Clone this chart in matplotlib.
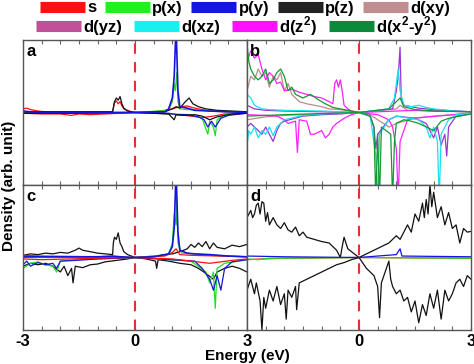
import matplotlib.pyplot as plt
from matplotlib.lines import Line2D
from matplotlib.ticker import MultipleLocator, FixedFormatter, FixedLocator

plt.rcParams.update({
    "font.family": ["Liberation Sans", "DejaVu Sans"],
    "font.weight": "bold",
})

# orbital names and colours (legend)
orbitals = ["s", "p(x)", "p(y)", "p(z)", "d(xy)",
            "d(yz)", "d(xz)", r"d(z$^\mathregular{2}$)", r"d(x$^\mathregular{2}$-y$^\mathregular{2}$)"]
colors = ["#ff1010", "#22ee22", "#1515e0", "#222222", "#c08e8e",
          "#c0509a", "#18f0f0", "#ff10ff", "#0a8a3a"]
line_colors = dict(s="#ff1010", px="#22dd22", py="#1515e0", pz="#111111", xy="#b88c8c",
                   yz="#9a35d2", xz="#18e0f0", z2="#ff20ff", x2y2="#139a30")

# ---- panel a (spin up > 0, spin down < 0) ----
a_s_up_e = [-3, -2.9, -2.8, -2.6, -2.4, -2.0, -1.5, -1.0, -0.6, -0.55, -0.5, -0.45, -0.4, -0.35, -0.3, -0.2, -0.1, 0, 0.5, 0.8, 1.0, 1.2, 1.4, 1.6, 1.8, 2.0, 2.4, 3]
a_s_up = [0.05, 0.06, 0.04, 0.02, 0.01, 0.01, 0.01, 0.01, 0.01, 0.13, 0.16, 0.12, 0.15, 0.09, 0.05, 0.03, 0.01, 0, 0.01, 0.03, 0.05, 0.08, 0.09, 0.06, 0.04, 0.02, 0.01, 0.005]
a_s_dn_e = [-3, -2.5, -2.0, -1.7, -1.5, -1.2, -0.8, -0.4, 0, 1.0, 1.5, 1.8, 2.1, 2.4, 3]
a_s_dn = [-0.01, -0.02, -0.02, -0.04, -0.02, -0.03, -0.02, -0.01, 0, -0.02, -0.05, -0.07, -0.05, -0.02, -0.01]
a_pz_up_e = [-3, -2.0, -1.0, -0.6, -0.55, -0.5, -0.45, -0.4, -0.35, -0.3, -0.2, 0, 0.8, 1.0, 1.1, 1.2, 1.35, 1.45, 1.55, 1.7, 1.9, 2.2, 2.6, 3]
a_pz_up = [0.01, 0.01, 0.01, 0.01, 0.15, 0.2, 0.17, 0.22, 0.12, 0.06, 0.02, 0, 0.01, 0.05, 0.08, 0.06, 0.15, 0.2, 0.12, 0.08, 0.05, 0.03, 0.02, 0.01]
a_pz_dn_e = [-3, -1.5, 0, 0.9, 1.05, 1.1, 1.3, 1.6, 1.8, 2.0, 2.2, 2.6, 3]
a_pz_dn = [-0.01, -0.01, 0, -0.02, -0.1, -0.03, -0.04, -0.03, -0.05, -0.1, -0.06, -0.02, -0.01]
a_py_up_e = [-3, -2.8, -2.5, -1.0, 0, 0.8, 0.9, 1.0, 1.05, 1.1, 1.15, 1.2, 1.4, 1.6, 2.0, 2.5, 3]
a_py_up = [0.02, 0.01, 0.0, 0.0, 0, 0.01, 0.05, 0.2, 0.5, 1.2, 0.3, 0.08, 0.06, 0.03, 0.02, 0.01, 0]
a_py_dn_e = [-3, 0, 0.9, 1.1, 1.4, 1.7, 1.85, 1.95, 2.05, 2.15, 2.3, 2.5, 3]
a_py_dn = [-0.01, 0, -0.01, -0.03, -0.03, -0.06, -0.1, -0.2, -0.12, -0.2, -0.08, -0.04, -0.01]
a_px_up_e = [-3, 0, 0.9, 1.0, 1.05, 1.08, 1.12, 1.15, 1.2, 1.4, 3]
a_px_up = [0.0, 0, 0.03, 0.15, 0.4, 0.3, 0.55, 0.15, 0.05, 0.04, 0]
a_px_dn_e = [-3, 0, 1.5, 1.8, 1.95, 2.0, 2.1, 2.15, 2.2, 2.4, 3]
a_px_dn = [0.0, 0, -0.03, -0.08, -0.3, -0.12, -0.2, -0.32, -0.1, -0.03, -0.01]

# ---- panel b ----
b_z2_up_e = [-3, -2.9, -2.8, -2.7, -2.6, -2.5, -2.4, -2.3, -2.2, -2.1, -2.0, -1.8, -1.6, -1.4, -1.2, -1.0, -0.8, -0.7, -0.65, -0.6, -0.55, -0.5, -0.45, -0.4, -0.3, -0.2, 0, 0.5, 1.0, 1.5, 2.0, 3]
b_z2_up = [0.7, 0.85, 0.75, 0.8, 0.6, 0.45, 0.55, 0.5, 0.4, 0.42, 0.3, 0.32, 0.28, 0.25, 0.22, 0.2, 0.15, 0.12, 0.4, 0.45, 0.35, 0.45, 0.3, 0.1, 0.05, 0.02, 0, 0.01, 0.02, 0.03, 0.02, 0.01]
b_x2y2_up_e = [-3, -2.95, -2.9, -2.8, -2.7, -2.6, -2.5, -2.4, -2.3, -2.2, -2.1, -2.0, -1.9, -1.8, -1.7, -1.5, -1.3, -1.1, -0.9, -0.7, -0.5, -0.3, 0, 0.8, 1.0, 1.1, 1.2, 1.5, 2.0, 3]
b_x2y2_up = [0.95, 0.7, 0.6, 0.5, 0.45, 0.5, 0.6, 0.4, 0.45, 0.55, 0.6, 0.5, 0.3, 0.35, 0.25, 0.2, 0.25, 0.18, 0.12, 0.07, 0.05, 0.03, 0, 0.05, 0.15, 0.2, 0.08, 0.04, 0.02, 0.01]
b_xy_up_e = [-3, -2.9, -2.8, -2.7, -2.6, -2.5, -2.4, -2.3, -2.2, -2.1, -2.0, -1.9, -1.8, -1.6, -1.4, -1.2, -1.0, -0.8, -0.5, 0, 1.0, 1.1, 1.3, 3]
b_xy_up = [0.3, 0.5, 0.45, 0.6, 0.5, 0.55, 0.35, 0.5, 0.45, 0.55, 0.3, 0.4, 0.25, 0.15, 0.12, 0.1, 0.08, 0.05, 0.04, 0, 0.05, 0.1, 0.03, 0.01]
b_xz_up_e = [-3, -2.9, -2.8, -2.6, -2.4, -2.0, -1.0, 0, 0.8, 0.95, 1.0, 1.05, 1.1, 1.2, 1.4, 1.6, 1.8, 2.0, 2.5, 3]
b_xz_up = [0.25, 0.2, 0.1, 0.05, 0.04, 0.03, 0.02, 0, 0.05, 0.2, 0.4, 0.6, 0.3, 0.1, 0.08, 0.1, 0.07, 0.05, 0.02, 0.01]
b_yz_up_e = [-3, -2.8, -2.5, -2.0, -1.0, 0, 0.9, 1.0, 1.05, 1.1, 1.13, 1.2, 1.4, 1.6, 2.0, 3]
b_yz_up = [0.1, 0.05, 0.03, 0.02, 0.01, 0, 0.05, 0.3, 0.5, 0.9, 0.2, 0.1, 0.08, 0.06, 0.04, 0.01]
b_yz_dn_e = [-3, -2.9, -2.8, -2.7, -2.6, -2.5, -2.4, -2.3, -2.2, -2.1, -2.0, -1.5, -1.0, -0.5, 0, 0.3, 0.4, 0.45, 0.5, 0.8, 1.0, 1.5, 1.8, 2.0, 2.1, 2.2, 2.3, 2.35, 2.4, 2.6, 3]
b_yz_dn = [-0.2, -0.15, -0.2, -0.25, -0.3, -0.2, -0.3, -0.4, -0.25, -0.15, -0.12, -0.05, -0.03, -0.02, 0, -0.05, -0.2, -0.5, -0.3, -0.1, -0.05, -0.08, -0.15, -0.35, -0.2, -0.45, -0.3, -0.6, -0.2, -0.05, -0.02]
b_xz_dn_e = [-3, -2.95, -2.9, -2.8, -2.7, -2.6, -2.5, -2.4, -2.3, -2.2, -2.1, -2.0, -1.5, -1.0, 0, 0.3, 0.45, 0.5, 0.55, 0.8, 1.0, 1.6, 1.8, 1.9, 2.0, 2.1, 2.15, 2.2, 2.4, 2.6, 3]
b_xz_dn = [-0.45, -0.25, -0.3, -0.2, -0.35, -0.25, -0.3, -0.2, -0.32, -0.2, -0.15, -0.1, -0.04, -0.02, 0, -0.05, -0.6, -1.2, -0.3, -0.1, -0.05, -0.1, -0.2, -0.35, -0.2, -0.4, -1.2, -0.3, -0.1, -0.03, -0.01]
b_z2_dn_e = [-3, -2.5, -2.2, -2.0, -1.9, -1.7, -1.65, -1.6, -1.4, -1.3, -1.2, -1.0, -0.9, -0.8, -0.7, -0.6, -0.4, -0.2, 0, 0.5, 0.8, 0.9, 1.0, 1.05, 1.1, 1.2, 1.3, 1.4, 3]
b_z2_dn = [-0.03, -0.04, -0.05, -0.1, -0.15, -0.12, -0.55, -0.1, -0.12, -0.3, -0.3, -0.25, -0.35, -0.3, -0.2, -0.15, -0.08, -0.03, 0, -0.03, -0.1, -0.2, -0.5, -1.2, -0.4, -0.25, -0.1, -0.08, -0.01]
b_x2y2_dn_e = [-3, -2.5, -2.0, 0, 0.3, 0.4, 0.45, 0.5, 0.55, 0.6, 0.85, 0.9, 0.95, 1.0, 1.2, 1.4, 1.6, 1.8, 2.0, 2.2, 2.4, 3]
b_x2y2_dn = [-0.05, -0.04, -0.03, 0, -0.05, -0.2, -1.2, -0.3, -1.2, -0.2, -0.3, -1.2, -0.4, -0.15, -0.1, -0.12, -0.15, -0.2, -0.25, -0.12, -0.08, -0.02]
b_xy_dn_e = [-3, -2.5, -2.0, 0, 0.3, 0.5, 0.8, 1.0, 1.5, 2.0, 3]
b_xy_dn = [-0.1, -0.06, -0.04, 0, -0.03, -0.1, -0.2, -0.15, -0.08, -0.05, -0.01]

# ---- panel c ----
c_pz_up_e = [-3, -2.8, -2.6, -2.4, -2.2, -2.0, -1.8, -1.6, -1.5, -1.4, -1.2, -1.0, -0.8, -0.6, -0.58, -0.55, -0.5, -0.45, -0.4, -0.35, -0.3, -0.2, 0, 0.3, 0.6, 0.8, 1.0, 1.2, 1.4, 1.5, 1.6, 1.7, 1.8, 1.9, 2.0, 2.1, 2.2, 2.4, 2.6, 2.8, 3.0]
c_pz_up = [0.03, 0.05, 0.04, 0.06, 0.05, 0.07, 0.06, 0.1, 0.13, 0.1, 0.08, 0.06, 0.05, 0.04, 0.2, 0.28, 0.25, 0.34, 0.2, 0.15, 0.08, 0.04, 0, 0.01, 0.02, 0.04, 0.05, 0.08, 0.12, 0.18, 0.14, 0.2, 0.15, 0.22, 0.12, 0.2, 0.14, 0.12, 0.17, 0.15, 0.18]
c_pz_dn_e = [-3, -2.8, -2.6, -2.4, -2.2, -2.0, -1.9, -1.8, -1.7, -1.66, -1.6, -1.4, -1.2, -1.0, -0.8, -0.5, -0.2, 0, 0.3, 0.55, 0.58, 0.62, 0.9, 1.2, 1.5, 1.7, 1.9, 2.1, 2.2, 2.4, 2.6, 2.8, 3.0]
c_pz_dn = [-0.12, -0.08, -0.1, -0.08, -0.12, -0.2, -0.12, -0.25, -0.15, -0.35, -0.12, -0.14, -0.1, -0.09, -0.06, -0.04, -0.02, 0, -0.02, -0.05, -0.15, -0.03, -0.05, -0.08, -0.1, -0.15, -0.22, -0.3, -0.2, -0.15, -0.12, -0.15, -0.2]
c_py_up_e = [-3, -1.0, -0.6, -0.4, 0, 0.5, 0.9, 1.0, 1.05, 1.1, 1.15, 1.2, 1.4, 1.6, 2.0, 2.5, 3]
c_py_up = [0.01, 0.01, 0.02, 0.01, 0, 0.01, 0.05, 0.15, 0.4, 1.2, 0.35, 0.1, 0.06, 0.05, 0.04, 0.02, 0.01]
c_py_dn_e = [-3, -2.9, -2.8, -2.6, -2.4, -2.2, -2.1, -2.0, -1.6, -1.0, 0, 1.6, 1.8, 2.0, 2.1, 2.2, 2.3, 2.4, 2.6, 3]
c_py_dn = [-0.1, -0.05, -0.12, -0.07, -0.1, -0.08, -0.15, -0.05, -0.04, -0.02, 0, -0.05, -0.15, -0.3, -0.45, -0.25, -0.45, -0.15, -0.06, -0.03]
c_px_up_e = [-3, 0, 0.9, 1.0, 1.05, 1.1, 1.12, 1.15, 1.25, 1.6, 2.0, 3]
c_px_up = [0.0, 0, 0.04, 0.2, 0.6, 0.45, 0.8, 0.2, 0.06, 0.05, 0.03, 0.01]
c_px_dn_e = [-3, -2.8, -2.6, -2.4, -2.2, -2.1, -2.0, -1.5, 0, 1.5, 1.9, 2.0, 2.1, 2.15, 2.2, 2.4, 3]
c_px_dn = [-0.15, -0.08, -0.06, -0.1, -0.12, -0.2, -0.05, -0.03, 0, -0.05, -0.2, -0.35, -0.2, -0.7, -0.15, -0.08, -0.03]
c_s_up_e = [-3, -2.5, -1.0, 0, 0.8, 1.0, 1.1, 1.2, 1.5, 3]
c_s_up = [0.03, 0.02, 0.01, 0, 0.02, 0.07, 0.12, 0.04, 0.03, 0.01]
c_s_dn_e = [-3, -2.5, -1.0, 0, 1.0, 1.5, 2.0, 2.3, 2.6, 3]
c_s_dn = [-0.02, -0.03, -0.01, 0, -0.02, -0.05, -0.08, -0.06, -0.04, -0.02]

# ---- panel d ----
d_pz_up_e = [-3, -2.9, -2.85, -2.8, -2.75, -2.7, -2.65, -2.6, -2.55, -2.5, -2.45, -2.4, -2.3, -2.2, -2.1, -2.0, -1.9, -1.8, -1.7, -1.6, -1.5, -1.4, -1.2, -1.0, -0.8, -0.6, -0.5, -0.45, -0.4, -0.35, -0.3, -0.2, -0.1, 0, 0.2, 0.4, 0.6, 0.8, 1.0, 1.1, 1.2, 1.3, 1.4, 1.5, 1.6, 1.7, 1.75, 1.8, 1.85, 1.9, 1.95, 2.0, 2.1, 2.2, 2.3, 2.4, 2.5, 2.6, 2.7, 2.8, 2.9, 3.0]
d_pz_up = [0.55, 0.65, 0.55, 0.6, 0.72, 0.75, 0.6, 0.77, 0.75, 0.5, 0.62, 0.45, 0.55, 0.45, 0.4, 0.48, 0.38, 0.35, 0.42, 0.3, 0.35, 0.28, 0.25, 0.22, 0.2, 0.1, 0.0, 0.15, 0.28, 0.2, 0.12, 0.08, 0.04, 0, 0.05, 0.1, 0.15, 0.2, 0.3, 0.25, 0.35, 0.45, 0.35, 0.6, 0.5, 0.75, 0.55, 0.8, 0.6, 1.0, 0.7, 0.9, 0.55, 0.7, 0.45, 0.62, 0.4, 0.45, 0.2, 0.4, 0.35, 0.36]
d_pz_dn_e = [-3, -2.9, -2.8, -2.75, -2.65, -2.6, -2.55, -2.5, -2.4, -2.3, -2.2, -2.1, -2.0, -1.95, -1.9, -1.8, -1.7, -1.67, -1.6, -1.4, -1.2, -1.0, -0.8, -0.6, -0.4, -0.2, 0, 0.2, 0.4, 0.5, 0.55, 0.6, 0.8, 0.85, 0.9, 1.0, 1.1, 1.2, 1.3, 1.4, 1.5, 1.6, 1.7, 1.8, 1.9, 2.0, 2.1, 2.2, 2.3, 2.4, 2.5, 2.6, 2.7, 2.8, 2.9, 3.0]
d_pz_dn = [-0.45, -0.3, -0.5, -0.35, -0.6, -1.0, -0.55, -0.7, -0.45, -0.6, -0.4, -0.65, -0.5, -0.85, -0.45, -0.55, -0.4, -0.72, -0.35, -0.3, -0.25, -0.2, -0.15, -0.1, -0.07, -0.03, 0, -0.15, -0.25, -0.4, -0.83, -0.35, -0.05, -0.3, -0.4, -0.5, -0.45, -0.6, -0.55, -0.75, -0.6, -0.9, -0.65, -0.8, -0.5, -0.7, -0.45, -0.85, -0.45, -0.6, -0.5, -0.35, -0.3, -0.4, -0.25, -0.3]
d_py_up_e = [-3, -2.0, 0, 1.0, 1.1, 1.15, 3]
d_py_up = [0.02, 0.01, 0, 0.04, 0.12, 0.02, 0.01]
d_s_dn_e = [-3, -2.6, -2.0, 0, 3]
d_s_dn = [-0.03, -0.02, -0.01, 0, -0.01]
d_px_dn_e = [-3, -2.7, -2.4, -2.0, 0, 3]
d_px_dn = [-0.02, -0.03, -0.01, -0.01, 0, -0.01]

fig = plt.figure(figsize=(4.74, 3.64), dpi=100)
W, H = 474, 364


def panel(x0, y0, w, h):
    return fig.add_axes([x0 / W, 1 - (y0 + h) / H, w / W, h / H])


ax_a = panel(23, 40, 224, 145)
ax_b = panel(247, 40, 224, 145)
ax_c = panel(23, 185, 224, 145)
ax_d = panel(247, 185, 224, 145)

lw = 0.9
ax_a.plot(a_s_up_e, a_s_up, c=line_colors["s"], lw=lw)
ax_a.plot(a_s_dn_e, a_s_dn, c=line_colors["s"], lw=lw)
ax_a.plot(a_px_up_e, a_px_up, c=line_colors["px"], lw=lw)
ax_a.plot(a_px_dn_e, a_px_dn, c=line_colors["px"], lw=lw)
ax_a.plot(a_py_dn_e, a_py_dn, c=line_colors["py"], lw=lw)
ax_a.plot(a_pz_up_e, a_pz_up, c=line_colors["pz"], lw=lw)
ax_a.plot(a_pz_dn_e, a_pz_dn, c=line_colors["pz"], lw=lw)
ax_a.plot(a_py_up_e, a_py_up, c=line_colors["py"], lw=1.2)

ax_b.plot(b_xy_up_e, b_xy_up, c=line_colors["xy"], lw=lw)
ax_b.plot(b_xy_dn_e, b_xy_dn, c=line_colors["xy"], lw=lw)
ax_b.plot(b_z2_up_e, b_z2_up, c=line_colors["z2"], lw=lw)
ax_b.plot(b_z2_dn_e, b_z2_dn, c=line_colors["z2"], lw=lw)
ax_b.plot(b_yz_up_e, b_yz_up, c=line_colors["yz"], lw=lw)
ax_b.plot(b_yz_dn_e, b_yz_dn, c=line_colors["yz"], lw=lw)
ax_b.plot(b_xz_up_e, b_xz_up, c=line_colors["xz"], lw=lw)
ax_b.plot(b_xz_dn_e, b_xz_dn, c=line_colors["xz"], lw=lw)
ax_b.plot(b_x2y2_up_e, b_x2y2_up, c=line_colors["x2y2"], lw=lw)
ax_b.plot(b_x2y2_dn_e, b_x2y2_dn, c=line_colors["x2y2"], lw=lw)

ax_c.plot(c_pz_up_e, c_pz_up, c=line_colors["pz"], lw=lw)
ax_c.plot(c_pz_dn_e, c_pz_dn, c=line_colors["pz"], lw=lw)
ax_c.plot(c_px_up_e, c_px_up, c=line_colors["px"], lw=lw)
ax_c.plot(c_px_dn_e, c_px_dn, c=line_colors["px"], lw=lw)
ax_c.plot(c_py_dn_e, c_py_dn, c=line_colors["py"], lw=lw)
ax_c.plot(c_s_up_e, c_s_up, c=line_colors["s"], lw=lw)
ax_c.plot(c_s_dn_e, c_s_dn, c=line_colors["s"], lw=lw)
ax_c.plot(c_py_up_e, c_py_up, c=line_colors["py"], lw=1.2)

ax_d.plot(d_s_dn_e, d_s_dn, c=line_colors["s"], lw=lw)
ax_d.plot(d_px_dn_e, d_px_dn, c=line_colors["px"], lw=lw)
ax_d.plot(d_pz_up_e, d_pz_up, c=line_colors["pz"], lw=lw)
ax_d.plot(d_pz_dn_e, d_pz_dn, c=line_colors["pz"], lw=lw)
ax_d.plot(d_py_up_e, d_py_up, c=line_colors["py"], lw=lw)

for ax, lab in zip([ax_a, ax_b, ax_c, ax_d], "abcd"):
    ax.set_xlim(-3, 3)
    ax.set_ylim(-1, 1)
    ax.axvline(0, color="#e8302a", lw=1.5, dashes=(5, 4), zorder=5)
    ax.set_yticks([])
    ax.xaxis.set_major_locator(MultipleLocator(0.5))
    ax.tick_params(axis="x", direction="in", top=True, length=3, width=0.8,
                   color="#666666", labelbottom=False, labelsize=12)
    for sp in ax.spines.values():
        sp.set_color("#555555")
        sp.set_linewidth(1.0)
    ax.text(0.015, 0.97, lab, transform=ax.transAxes, ha="left", va="top",
            fontsize=12, fontweight="bold", zorder=6)

for ax, shown in [(ax_c, ["-3", "0", "3"]), (ax_d, ["", "0", "3"])]:
    ax.xaxis.set_major_locator(FixedLocator([-3, 0, 3]))
    ax.xaxis.set_major_formatter(FixedFormatter(shown))
    ax.xaxis.set_minor_locator(MultipleLocator(0.5))
    ax.tick_params(axis="x", which="both", direction="in", top=True, length=3, width=0.8,
                   color="#666666", labelbottom=True, labelsize=12, pad=3)
    for t in ax.get_xticklabels():
        t.set_fontweight("bold")

fig.text(247 / W, 1 - 356 / H, "Energy (eV)", ha="center", va="center",
         fontsize=11, fontweight="bold")
fig.text(9 / W, 1 - 186 / H, "Density (arb. unit)", ha="center", va="center",
         rotation=90, fontsize=11, fontweight="bold")

handles = [Line2D([], [], color=c, lw=8, solid_capstyle="butt") for c in colors]
leg_kw = dict(frameon=False, handlelength=2.7, handletextpad=0.15,
              prop=dict(size=12, weight="bold"), borderaxespad=0, borderpad=0)
fig.legend(handles[:5], orbitals[:5], ncol=5, loc="center", columnspacing=0.5,
           bbox_to_anchor=(0.517, 1 - 8 / H), **leg_kw)
fig.legend(handles[5:], orbitals[5:], ncol=4, loc="center", columnspacing=0.7,
           bbox_to_anchor=(0.499, 1 - 26 / H), **leg_kw)

fig.savefig("out.png", dpi=100)
